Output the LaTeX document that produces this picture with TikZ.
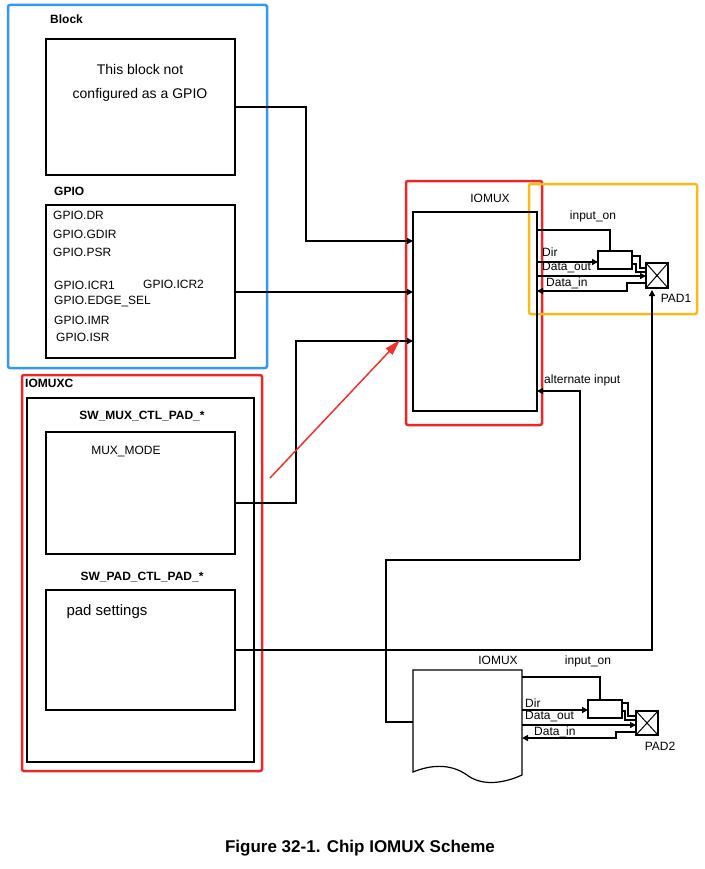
\documentclass[tikz,border=0pt]{standalone}
\usepackage{fontspec}
\setmainfont{Liberation Sans}
\usetikzlibrary{arrows.meta}
\begin{document}
\begin{tikzpicture}[x=1pt,y=-1pt,
  box/.style={draw,line width=1.2pt},
  wire/.style={draw,line width=1.3pt},
  arr/.style={wire,-{Triangle[length=6pt,width=6pt]}},
  t/.style={font=\fontsize{12}{14}\selectfont,inner sep=0pt},
  tb/.style={font=\fontsize{12}{14}\selectfont\bfseries,inner sep=0pt},
  frame/.style={draw,line width=2.5pt,rounded corners=2pt}]
\useasboundingbox (0,0) rectangle (704,869);
% frames
\draw[frame,color={rgb,255:red,50;green,150;blue,250}] (8,5) rectangle (267,368);
\draw[frame,color={rgb,255:red,235;green,40;blue,40}] (22,375) rectangle (262,771);
\draw[frame,color={rgb,255:red,235;green,40;blue,40}] (406,181) rectangle (542,425);
\draw[frame,color={rgb,255:red,250;green,185;blue,20}] (529,184) rectangle (697,314);
% left blocks
\node[tb,anchor=west] (lblock) at (50,19) {Block};
\draw[box] (46,39) rectangle (235,175);
\node (blk) at (140,107) {};
\node[font=\fontsize{14}{24}\selectfont,align=center] (btxt) at (140,83) {This block not\\configured as a GPIO};
\node[tb,anchor=west] (lgpio) at (54,191) {GPIO};
\draw[box] (46,205) rectangle (235,358);
\node[t,anchor=west] at (53,215) {GPIO.DR};
\node[t,anchor=west] at (53,234) {GPIO.GDIR};
\node[t,anchor=west] at (53,252) {GPIO.PSR};
\node[t,anchor=west] at (54,285) {GPIO.ICR1};
\node[t,anchor=west] at (143,284) {GPIO.ICR2};
\node[t,anchor=west] at (54,302) {GPIO.EDGE\_SEL};
\node[t,anchor=west] at (54,320) {GPIO.IMR};
\node[t,anchor=west] at (56,337) {GPIO.ISR};
\node[tb,anchor=west] at (25,383) {IOMUXC};
\draw[box] (27,398) rectangle (254,762);
\node[tb] at (142,416) {SW\_MUX\_CTL\_PAD\_*};
\draw[box] (46,432) rectangle (235,554);
\node[t] at (126,451) {MUX\_MODE};
\node[tb] at (142,577) {SW\_PAD\_CTL\_PAD\_*};
\draw[box] (46,590) rectangle (235,710);
\node[font=\fontsize{15}{17}\selectfont,inner sep=0pt] at (107,612) {pad settings};
% IOMUX 1
\node[t] at (490,198) {IOMUX};
\draw[box] (413,212) rectangle (537,411);
\coordinate (m1) at (413,241);
\coordinate (m2) at (413,292);
\coordinate (m3) at (413,341);
\draw[arr] (235,107) -| (306,241) -- (m1);
\draw[arr] (235,292) -- (m2);
\draw[arr] (235,503) -| (296,341) -- (m3);
\draw[line width=1.5pt,color={rgb,255:red,240;green,50;blue,40},-{Triangle[length=16pt,width=9pt]}] (270,478) -- (400,340);
% PAD1 cluster
\node[t] at (593,216) {input\_on};
\draw[wire] (537,230) -| (610,251);
\draw[box] (598,251) rectangle (632,269);
\node[t,anchor=west] at (542,252) {Dir};
\draw[arr] (537,262) -- (598,262);
\node[t,anchor=west] at (542,268) {Data\_out};
\draw[arr] (537,276) -- (646,276);
\node[t,anchor=west] at (546,283) {Data\_in};
\draw[box] (646,263) rectangle (668,288);
\draw[line width=1pt] (646,263) -- (668,288) (646,288) -- (668,263);
\draw[wire] (632,256) -| (640,268) -- (646,268);
\draw[wire] (632,264) -| (636,272) -- (646,272);
\draw[arr] (646,283) -- (627,283) |- (537,291);
\node[t] at (676,298) {PAD1};
% alternate input
\node[t,anchor=west] at (544,380) {alternate input};
\draw[arr] (580,560) |- (537,391);
\draw[wire] (580,560) -- (386,560) |- (413,722);
% pad settings
\draw[arr] (235,650) -| (652,290);
% IOMUX 2
\node[t] at (498,660) {IOMUX};
\draw[box] (413,670) -- (522,670) -- (522,775) .. controls (500,785) and (480,785) .. (467,775) .. controls (450,763) and (430,765) .. (413,772) -- cycle;
\node[t] at (588,661) {input\_on};
\draw[wire] (522,677) -| (600,700);
\draw[box] (588,700) rectangle (622,718);
\node[t,anchor=west] at (525,703) {Dir};
\draw[arr] (522,710) -- (588,710);
\node[t,anchor=west] at (525,717) {Data\_out};
\draw[arr] (522,725) -- (636,725);
\node[t,anchor=west] at (534,732) {Data\_in};
\draw[box] (636,711) rectangle (658,735);
\draw[line width=1pt] (636,711) -- (658,735) (636,735) -- (658,711);
\draw[wire] (622,703) -| (628,716) -- (636,716);
\draw[wire] (622,711) -| (625,720) -- (636,720);
\draw[arr] (636,732) -- (616,732) |- (522,738);
\node[t] at (660,746) {PAD2};
% caption
\node[font=\fontsize{17}{20}\selectfont\bfseries] at (360,848) {Figure 32-1. Chip IOMUX Scheme};
\end{tikzpicture}
\end{document}
